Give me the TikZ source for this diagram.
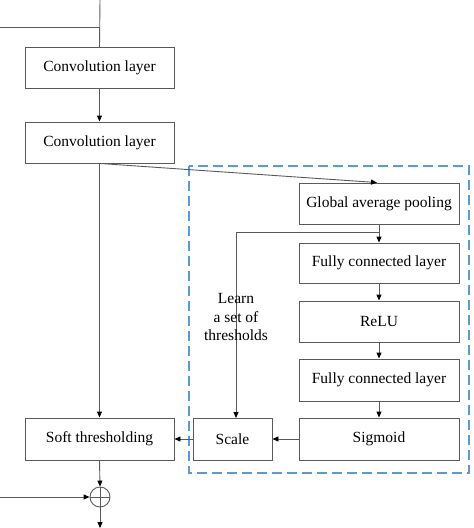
\documentclass[tikz,border=0pt]{standalone}
\usepackage{fontspec}
\setmainfont{Liberation Serif}
\usetikzlibrary{arrows.meta}
\definecolor{linegray}{HTML}{5A5A5A}
\definecolor{dashblue}{HTML}{5B9BD5}
\begin{document}
\begin{tikzpicture}[x=1pt,y=-1pt,
  blk/.style={draw=linegray,line width=0.9pt,minimum height=41pt,inner sep=0pt,font=\fontsize{15.5}{18}\selectfont,text=black},
  conn/.style={draw=linegray,line width=0.9pt},
  arr/.style={conn,-{Triangle[length=6pt,width=5pt,color=black]}},
  lbl/.style={font=\fontsize{15.5}{18.5}\selectfont,align=center,inner sep=0pt}]
\useasboundingbox (0,0) rectangle (474,528);
% dashed box
\draw[dashblue,line width=1.6pt,dash pattern=on 10pt off 5pt] (189,166) rectangle (469,473);
% left column
\node[blk,minimum width=149pt] (conv1) at (99.5,68) {Convolution layer};
\node[blk,minimum width=149pt] (conv2) at (99.5,142.5) {Convolution layer};
\node[blk,minimum width=149pt,minimum height=42pt] (soft) at (99.5,439) {Soft thresholding};
\node[draw=linegray,line width=0.9pt,circle,minimum size=20pt,inner sep=0pt] (plus) at (100,497) {};
\draw[conn] (plus.north) -- (plus.south) (plus.west) -- (plus.east);
% right column
\node[blk,minimum width=160pt] (gap) at (379,203.5) {Global average pooling};
\node[blk,minimum width=160pt,minimum height=40pt] (fc1) at (379,263) {Fully connected layer};
\node[blk,minimum width=160pt] (relu) at (379,321.5) {ReLU};
\node[blk,minimum width=160pt,minimum height=42pt] (fc2) at (379,380) {Fully connected layer};
\node[blk,minimum width=160pt,minimum height=42pt] (sig) at (379,439) {Sigmoid};
\node[blk,minimum width=79pt,minimum height=42pt] (scale) at (232.5,439) {Scale};
% coordinates
\coordinate (top) at (100,0);
\coordinate (sc1) at (0,27);
\coordinate (sc1b) at (100,27);
\coordinate (sc2) at (0,497);
\coordinate (out) at (100,528);
\coordinate (j) at (378.5,232);
\coordinate (st) at (236,418);
% connectors
\draw[conn] (top) -- (conv1.north);
\draw[conn] (sc1) -- (sc1b);
\draw[arr] (conv1.south) -- (conv2.north);
\draw[arr] (conv2.south) -- (soft.north);
\draw[arr] (conv2.south) -- ([xshift=-2pt]gap.north);
\draw[arr] (gap.south) -- (fc1.north);
\draw[arr] (j) -| (st);
\draw[arr] (fc1.south) -- (relu.north);
\draw[arr] (relu.south) -- (fc2.north);
\draw[arr] (fc2.south) -- (sig.north);
\draw[arr] (sig.west) -- (scale.east);
\draw[arr] (scale.west) -- (soft.east);
\draw[arr] (soft.south) -- (plus.north);
\draw[arr] (sc2) -- (plus.west);
\draw[arr] (plus.south) -- (out);
\node[lbl] (learn) at (236,317) {Learn\\a set of\\thresholds};
\end{tikzpicture}
\end{document}
